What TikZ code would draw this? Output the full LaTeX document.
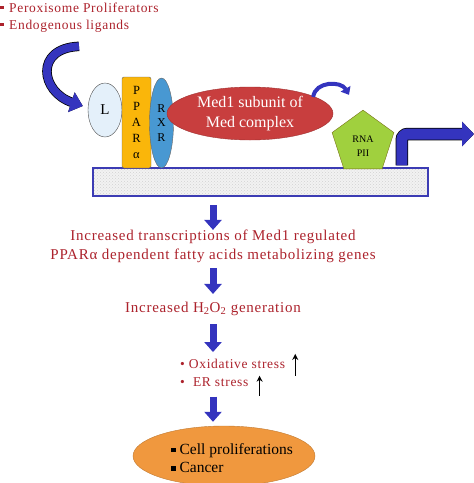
\documentclass[tikz,border=0pt]{standalone}
\usepackage{fontspec}
\setmainfont{Liberation Serif}
\newfontfamily\widerm[LetterSpace=5]{Liberation Serif}
\usetikzlibrary{arrows.meta,shapes.geometric,patterns,positioning}
\definecolor{txtred}{RGB}{172,34,44}
\definecolor{arrblue}{RGB}{52,52,190}
\definecolor{medred}{RGB}{200,62,62}
\definecolor{pparorange}{RGB}{250,182,10}
\definecolor{rxrblue}{RGB}{72,152,210}
\definecolor{lblue}{RGB}{228,240,250}
\definecolor{polgreen}{RGB}{160,208,62}
\definecolor{cellorange}{RGB}{240,152,62}
\definecolor{dnablue}{RGB}{60,60,180}
\newcommand{\redbul}{\textcolor{txtred}{\rule[3.5pt]{5pt}{3pt}}\hspace{5pt}}
\newcommand{\sqbul}{\rule[2pt]{4.5pt}{4.5pt}\hspace{4pt}}
\tikzset{
  redtxt/.style={text=txtred,font=\widerm\fontsize{15}{19}\selectfont,inner sep=0pt,align=center},
  downarrow/.style={arrblue,line width=7pt,-{Triangle[width=17pt,length=10pt]}},
  uparrow/.style={black,line width=1.3pt,-{Stealth[width=6pt,length=6pt]}},
  thickarrow/.style={arrblue,line width=#1,preaction={draw=black,line width=#1+1.5pt}}
}
\begin{document}
\begin{tikzpicture}[x=1pt,y=-1pt]
  \useasboundingbox (0,0) rectangle (474,483);
  % ligands
  \node[redtxt,anchor=west,align=left,font=\widerm\fontsize{13.5}{16}\selectfont] (prx) at (-1,8) {\redbul Peroxisome Proliferators};
  \node[redtxt,anchor=west,align=left,font=\widerm\fontsize{13.5}{16}\selectfont] (lig) at (-1,26) {\redbul Endogenous ligands};
  % receptor complex on the DNA
  \node[draw=dnablue,line width=1.5pt,preaction={fill=gray!10},pattern=crosshatch dots,pattern color=gray!35,
    minimum width=335pt,minimum height=28pt,inner sep=0pt] (dna) at (260.5,182) {};
  \node[draw=black!70,fill=lblue,ellipse,minimum width=34pt,minimum height=54pt,inner sep=0pt,
    font=\fontsize{15}{16}\selectfont] (lnd) at (105,110) {L};
  \node[draw=black!60,fill=pparorange,rounded corners=2pt,minimum width=29pt,minimum height=91pt,
    inner sep=0pt,align=center,font=\fontsize{12.5}{16}\selectfont] (ppar) at (136.5,122.5) {P\\P\\A\\R\\α};
  \node[draw=black!60,fill=rxrblue,ellipse,minimum width=24pt,minimum height=90pt,inner sep=0pt,
    align=center,font=\fontsize{12}{14.5}\selectfont] (rxr) at (161.5,123) {R\\X\\R};
  \node[draw=medred!80!black,fill=medred,ellipse,minimum width=166pt,minimum height=53pt,inner sep=0pt,
    align=center,text=white,font=\fontsize{16}{20}\selectfont] (med) at (250,113.5) {Med1 subunit of\\Med complex};
  \node[draw=olive!80!black,fill=polgreen,regular polygon,regular polygon sides=5,minimum size=65pt,
    inner sep=0pt,align=center,font=\fontsize{10}{14}\selectfont] (pol) at (363,142.6) {\\RNA\\PII};
  \coordinate (hd) at (474,134);
  % arrows at the complex
  \draw[thickarrow=8pt,-{Triangle[width=20pt,length=12pt]}]
    ([xshift=80pt,yshift=-14pt]lig.south west) .. controls +(-45,2) and +(-42,-14) .. ([xshift=-5pt,yshift=4pt]lnd.west);
  \draw[arrblue,line width=4pt,-{Triangle[width=11pt,length=7pt]}]
    ([shift={(-20,-16.5)}]med.east) .. controls +(2,-16) and +(-8,-14) .. ([shift={(-14,-15)}]pol.north);
  \draw[thickarrow=11pt,rounded corners=6pt,-{Triangle[width=24pt,length=12pt]}]
    ([shift={(-27,-2)}]dna.north east) |- (hd);
  % cascade
  \node[redtxt] (tx) at (213,246.5) {Increased transcriptions of Med1 regulated\\PPARα dependent fatty acids metabolizing genes};
  \node[redtxt] (hoo) at (213,309) {Increased H\textsubscript{2}O\textsubscript{2} generation};
  \node[redtxt,anchor=west,font=\widerm\fontsize{13.5}{16}\selectfont] (oxi) at (180,364) {\textbullet\ Oxidative stress};
  \node[redtxt,anchor=west,font=\widerm\fontsize{13.5}{16}\selectfont] (er) at (180,382) {\textbullet\ \ ER stress};
  \node[draw=cellorange!80!black,fill=cellorange,ellipse,minimum width=182pt,minimum height=60pt,inner sep=0pt]
    (cell) at (224,456) {};
  \node[align=left,inner sep=0pt,font=\fontsize{15.5}{18.5}\selectfont] (cellt) at ([shift={(8,2)}]cell.center)
    {\sqbul Cell proliferations\\\sqbul Cancer};
  \draw[downarrow] (213,205) -- (tx.north);
  \draw[downarrow,shorten <=5pt,shorten >=8pt] (tx.south) -- (hoo.north);
  \draw[downarrow,shorten <=8pt,shorten >=7pt] (hoo.south) -- (oxi.north -| hoo.south);
  \draw[downarrow,shorten <=10pt,shorten >=4pt] (er.south -| hoo.south) -- (cell.north -| hoo.south);
  \draw[uparrow] ([xshift=10pt,yshift=-7pt]oxi.south east) -- ++(0,-22);
  \draw[uparrow] ([xshift=11pt,yshift=-9pt]er.south east) -- ++(0,-20);
\end{tikzpicture}
\end{document}
